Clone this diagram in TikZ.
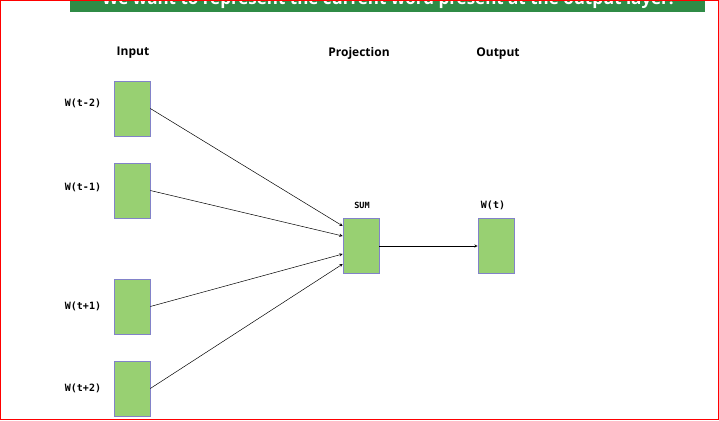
\documentclass[tikz,border=0pt]{standalone}
\usepackage{fontspec}
\setmainfont{Open Sans}
\newfontfamily\monof{DejaVu Sans Mono}
\begin{document}
\begin{tikzpicture}[x=1pt,y=-1pt,
 box/.style={draw=blue!40!gray!70,line width=0.6pt,minimum width=36pt,minimum height=55pt,inner sep=0pt},
 lbl/.style={font=\monof\bfseries\fontsize{10}{11}\selectfont},
 hdr/.style={font=\bfseries\fontsize{12}{13}\selectfont},
 arr/.style={-stealth,line width=0.5pt}]
\useasboundingbox (0,0) rectangle (719,420);
\definecolor{bx}{HTML}{98D072}
\definecolor{bn}{HTML}{2F8B46}
\tikzset{box/.append style={fill=bx}}
\fill[bn] (70,0) rectangle (705,12);
\begin{scope}
\clip (70,0) rectangle (705,12);
\node[text=white,font=\bfseries\fontsize{17}{18}\selectfont] (ban) at (388,0) {We want to represent the current word present at the output layer.};
\end{scope}
\draw[red,line width=1pt] (0.5,0.5) rectangle (718.5,419.5);
\node[hdr] (hin) at (133,53) {Input};
\node[hdr] (hpr) at (359,53) {Projection};
\node[hdr] (hou) at (498,54) {Output};
\node[box] (i1) at (132,108.5) {};
\node[box] (i2) at (132,190.5) {};
\node[box] (i3) at (132,306.5) {};
\node[box] (i4) at (132,388.5) {};
\node[box] (s) at (361,246) {};
\node[box] (o) at (496,246) {};
\node[lbl] (l1) at (83,103) {W(t-2)};
\node[lbl] (l2) at (83,187) {W(t-1)};
\node[lbl] (l3) at (83,306) {W(t+1)};
\node[lbl] (l4) at (83,388) {W(t+2)};
\node[lbl,font=\monof\bfseries\fontsize{8.5}{9}\selectfont] (ls) at (362,205) {SUM};
\node[lbl] (lo) at (493,205) {W(t)};
\draw[arr] (i1.east) -- ([yshift=20pt]s.west);
\draw[arr] (i2.east) -- ([yshift=10pt]s.west);
\draw[arr] (i3.east) -- ([yshift=-8pt]s.west);
\draw[arr] (i4.east) -- ([yshift=-18pt]s.west);
\draw[arr] (s.east) -- (o.west);
\end{tikzpicture}
\end{document}
